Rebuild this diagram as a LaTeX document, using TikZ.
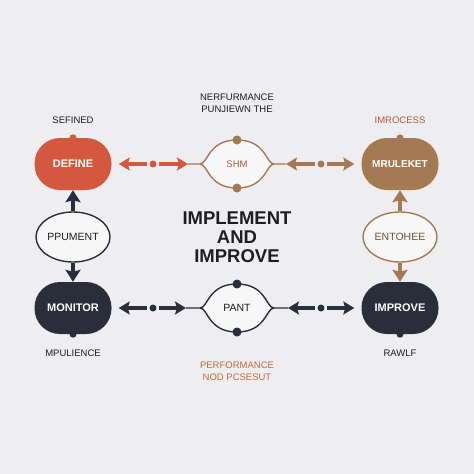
\documentclass[tikz,border=0pt]{standalone}
\usepackage{fontspec}
\setmainfont{Liberation Sans}
\usetikzlibrary{arrows.meta,shapes.geometric}
\definecolor{bgcol}{HTML}{EEEEF0}
\definecolor{defred}{HTML}{D4583F}
\definecolor{implbrown}{HTML}{A37A52}
\definecolor{navy}{HTML}{2A2E3B}
\definecolor{ink}{HTML}{1E1E22}
\definecolor{labred}{HTML}{B5573E}
\definecolor{perforange}{HTML}{C4683E}

\begin{document}
\begin{tikzpicture}[x=1pt, y=-1pt, >={Stealth[length=11pt,width=13pt,inset=2pt]}, font=\fontsize{9.5}{12}\selectfont, text=ink]
      \tikzset{blob/.style={rounded corners=25.5pt, minimum width=77pt, minimum height=52pt, inner sep=0pt, text=white, font=\fontsize{11}{13}\selectfont\bfseries},
        oval/.style={draw, ellipse, line width=1.4pt, minimum width=74pt, minimum height=50pt, inner sep=0pt, fill=white!55!bgcol, font=\fontsize{10.5}{12}\selectfont},
        lens/.style={line width=1.4pt, fill=white!55!bgcol},
        bead/.style={circle, minimum size=9pt, inner sep=0pt},
        smalldot/.style={circle, minimum size=7pt, inner sep=0pt},
        harr/.style={line width=3.5pt},
        varr/.style={line width=4.5pt, -{Stealth[length=12pt,width=15pt,inset=2pt]}}}
      \useasboundingbox (0,0) rectangle (474,474);
      \fill[bgcol] (0,0) rectangle (474,474);

      \node[blob, fill=defred] (define) at (73,164) {DEFINE};
      \node[blob, fill=implbrown, font=\fontsize{10}{12}\selectfont\bfseries] (mplement) at (400,164) {MRULEKET};
      \node[blob, fill=navy] (monitor) at (73,308) {MONITOR};
      \node[blob, fill=navy] (improve) at (400,308) {IMPROVE};
      \fill[defred] (define.north) circle (3.5pt);
      \fill[implbrown] (mplement.north) circle (3.5pt);
      \fill[navy] (monitor.south) circle (3.5pt);
      \fill[navy] (improve.south) circle (3.5pt);

      \node[oval, draw=navy] (ppument) at (73,237) {PPUMENT};
      \node[oval, draw=implbrown, text=implbrown!70!black] (entohee) at (400,237) {ENTOHEE};

      \draw[lens, draw=implbrown] (188,164) -- (200,164) .. controls (208,164) and (208,140) .. (237,140) .. controls (266,140) and (266,164) .. (274,164) -- (286,164)
        (274,164) .. controls (266,164) and (266,188) .. (237,188) .. controls (208,188) and (208,164) .. (200,164);
      \draw[lens, draw=navy] (186,308) -- (200,308) .. controls (208,308) and (208,284) .. (237,284) .. controls (266,284) and (266,308) .. (274,308) -- (288,308)
        (274,308) .. controls (266,308) and (266,332) .. (237,332) .. controls (208,332) and (208,308) .. (200,308);
      \coordinate (shmW) at (188,164);
      \coordinate (shmE) at (286,164);
      \coordinate (pantW) at (186,308);
      \coordinate (pantE) at (288,308);
      \node[text=labred] (shm) at (237,164) {SHM};
      \node[font=\fontsize{10.5}{12}\selectfont] (pant) at (237,308) {PANT};
      \node[bead, fill=implbrown] (shmtop) at (237,140) {};
      \node[bead, fill=implbrown] (shmbot) at (237,188) {};
      \node[bead, fill=navy] (panttop) at (237,284) {};
      \node[bead, fill=navy] (pantbot) at (237,332) {};

      \node[smalldot, fill=defred] (dotA) at (153,164) {};
      \node[smalldot, fill=implbrown] (dotB) at (321,164) {};
      \node[smalldot, fill=navy] (dotC) at (153,308) {};
      \node[smalldot, fill=navy] (dotD) at (321,308) {};
      \draw[harr, defred, <-, shorten <=7pt, shorten >=2.5pt] (define) -- (dotA);
      \draw[harr, defred, ->, shorten <=2.5pt] (dotA) -- (shmW);
      \draw[harr, implbrown, <-, shorten >=2.5pt] (shmE) -- (dotB);
      \draw[harr, implbrown, ->, shorten <=2.5pt, shorten >=7pt] (dotB) -- (mplement);
      \draw[harr, navy, <-, shorten <=7pt, shorten >=2.5pt] (monitor) -- (dotC);
      \draw[harr, navy, ->, shorten <=2.5pt] (dotC) -- (pantW);
      \draw[harr, navy, <-, shorten >=2.5pt] (pantE) -- (dotD);
      \draw[harr, navy, ->, shorten <=2.5pt, shorten >=7pt] (dotD) -- (improve);

      \draw[varr, navy] (ppument) -- (define);
      \draw[varr, navy] (ppument) -- (monitor);
      \draw[varr, implbrown] (entohee) -- (mplement);
      \draw[varr, implbrown] (entohee) -- (improve);

      \node (sefined) at (73,120) {SEFINED};
      \node[text=labred] (imrocess) at (400,120) {IMROCESS};
      \node (mpulience) at (73,353) {MPULIENCE};
      \node (rawlf) at (400,353) {RAWLF};
      \node[align=center] (perftop) at (237,103) {NERFURMANCE\\PUNJIEWN THE};
      \node[align=center, text=perforange] (perfbot) at (237,371) {PERFORMANCE\\NOD PCSESUT};
      \node[align=center, font=\fontsize{18.5}{19}\selectfont\bfseries] (title) at (237,237) {IMPLEMENT\\AND\\IMPROVE};
    \end{tikzpicture}
\end{document}
